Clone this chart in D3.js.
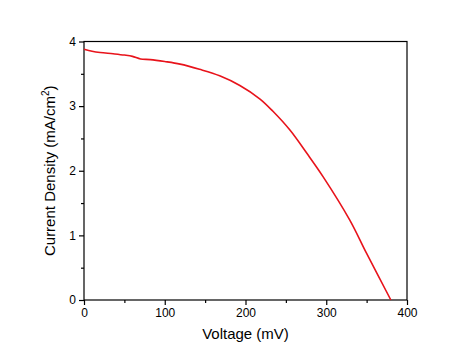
<!DOCTYPE html>
<html>
<head>
<meta charset="utf-8">
<script src="https://cdn.jsdelivr.net/npm/d3@7"></script>
<style>
  body { margin: 0; background: #fff; }
  text { font-family: "Liberation Sans", Arial, sans-serif; fill: #000; }
</style>
</head>
<body>
<div id="chart"></div>
<script>
const voltage = [0, 10, 20, 36, 50, 60, 70, 82, 100, 119, 143, 168, 193, 218, 234, 255, 276, 296, 329, 350, 380];
const current = [3.88, 3.85, 3.83, 3.81, 3.79, 3.77, 3.73, 3.72, 3.69, 3.65, 3.57, 3.47, 3.32, 3.11, 2.92, 2.63, 2.27, 1.91, 1.24, 0.72, 0];
const xTicks = [0, 100, 200, 300, 400];
const yTicks = [0, 1, 2, 3, 4];

const width = 474, height = 361;
const margin = { top: 41.5, right: 67, bottom: 61, left: 84 };

const svg = d3.select("#chart").append("svg")
  .attr("width", width).attr("height", height);

const x = d3.scaleLinear().domain([0, 400]).range([margin.left, width - margin.right]);
const y = d3.scaleLinear().domain([0, 4]).range([height - margin.bottom, margin.top]);

// frame
svg.append("rect")
  .attr("x", x(0)).attr("y", y(4))
  .attr("width", x(400) - x(0)).attr("height", y(0) - y(4))
  .attr("fill", "none").attr("stroke", "#000").attr("stroke-width", 1.2);

// minor ticks
svg.append("g")
  .attr("transform", `translate(0,${y(0)})`)
  .call(d3.axisBottom(x).tickValues([50, 150, 250, 350]).tickSize(3).tickFormat(""))
  .call(g => g.select(".domain").remove());
svg.append("g")
  .attr("transform", `translate(${x(0)},0)`)
  .call(d3.axisLeft(y).tickValues([0.5, 1.5, 2.5, 3.5]).tickSize(3).tickFormat(""))
  .call(g => g.select(".domain").remove());

// major ticks
const xAxis = svg.append("g")
  .attr("transform", `translate(0,${y(0)})`)
  .call(d3.axisBottom(x).tickValues(xTicks).tickSize(5).tickPadding(3).tickFormat(d3.format("d")));
xAxis.select(".domain").remove();
xAxis.selectAll("text").attr("font-size", 12).attr("font-family", "Liberation Sans, Arial, sans-serif");

const yAxis = svg.append("g")
  .attr("transform", `translate(${x(0)},0)`)
  .call(d3.axisLeft(y).tickValues(yTicks).tickSize(5).tickPadding(3).tickFormat(d3.format("d")));
yAxis.select(".domain").remove();
yAxis.selectAll("text").attr("font-size", 12).attr("font-family", "Liberation Sans, Arial, sans-serif");

svg.selectAll(".tick line").attr("stroke", "#000").attr("stroke-width", 1.2);

// curve
const pts = voltage.map((v, i) => [v, current[i]]);
svg.append("path")
  .datum(pts)
  .attr("fill", "none")
  .attr("stroke", "#e8131b")
  .attr("stroke-width", 1.6)
  .attr("d", d3.line().x(d => x(d[0])).y(d => y(d[1])).curve(d3.curveCatmullRom.alpha(0.5)));

// labels
svg.append("text")
  .attr("x", (x(0) + x(400)) / 2).attr("y", 339)
  .attr("text-anchor", "middle").attr("font-size", 15)
  .text("Voltage (mV)");

const yl = svg.append("text")
  .attr("transform", `translate(55,${(y(0) + y(4)) / 2}) rotate(-90)`)
  .attr("text-anchor", "middle").attr("font-size", 15);
yl.append("tspan").text("Current Density (mA/cm");
yl.append("tspan").attr("font-size", 10).attr("dy", -6).text("2");
yl.append("tspan").attr("dy", 6).text(")");
</script>
</body>
</html>
